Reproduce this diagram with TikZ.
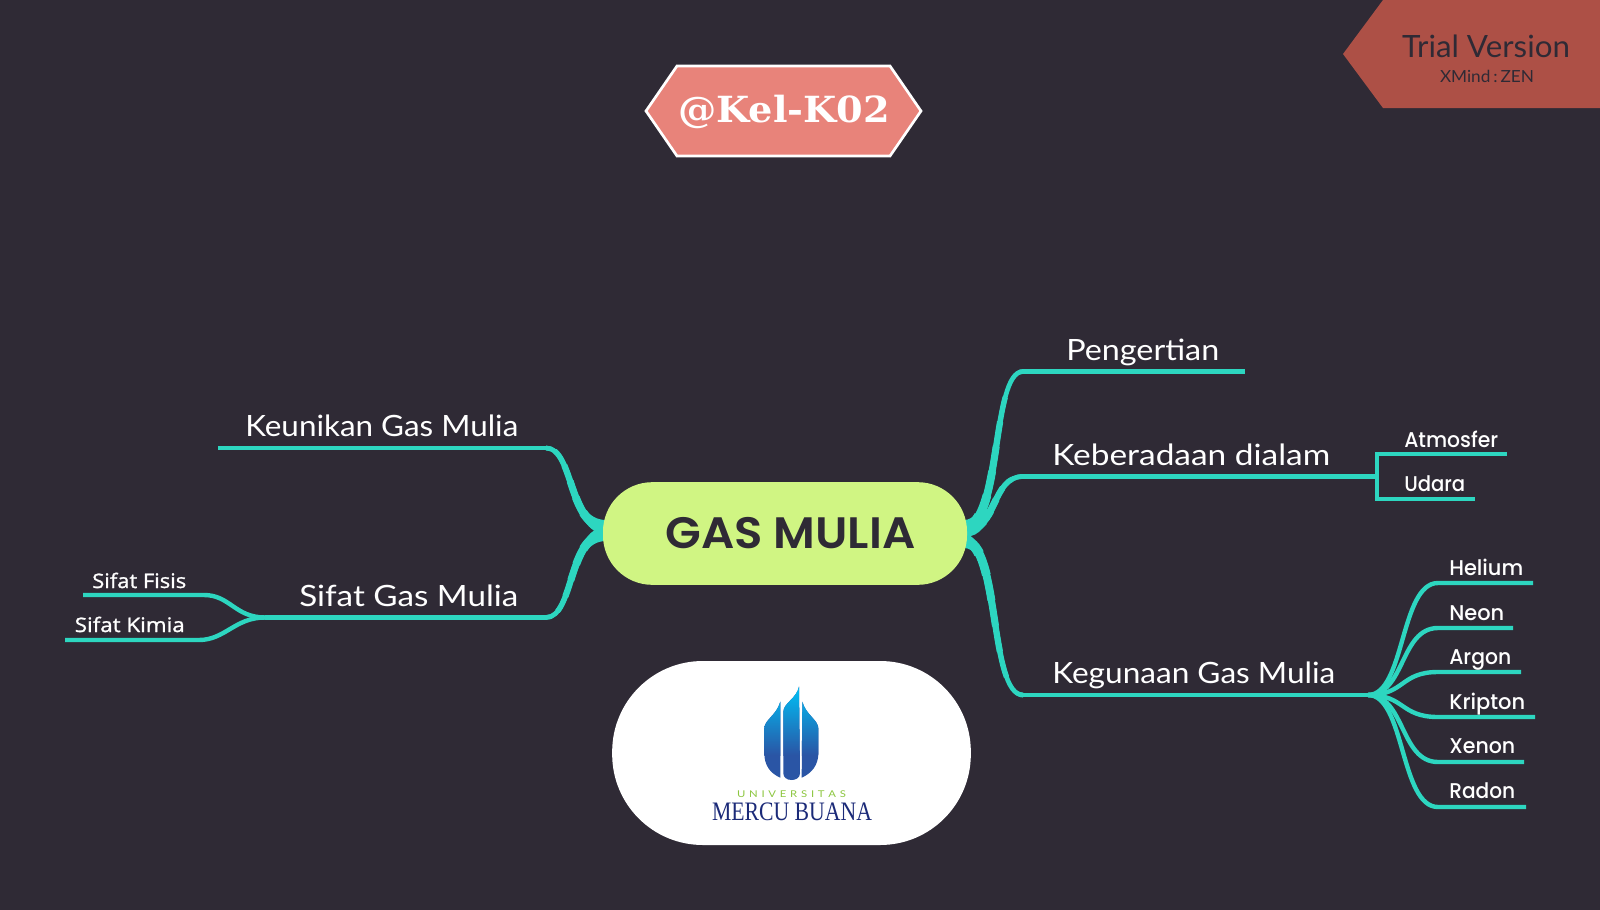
\documentclass[tikz,border=0pt]{standalone}
\usepackage{fontspec}
\usepackage{graphicx}
\usetikzlibrary{calc}
\setmainfont{Lato}
\newfontfamily\handf{Lato}
\newfontfamily\popm{Poppins Medium}
\newfontfamily\pops{Poppins SemiBold}
\newfontfamily\opens{Open Sans}[FakeBold=1.2]
\newfontfamily\kelf{DejaVu Serif}
\definecolor{bgc}{HTML}{2F2A35}
\definecolor{tealc}{HTML}{2DD6C0}
\definecolor{trialc}{HTML}{AD5046}
\definecolor{hexc}{HTML}{E8837A}
\definecolor{limec}{HTML}{D0F583}
\definecolor{logot}{HTML}{00C0F5}
\definecolor{logom}{HTML}{1590D5}
\definecolor{logob}{HTML}{2A55A5}
\definecolor{navyc}{HTML}{1B2A78}
\definecolor{greenc}{HTML}{8CC63F}
\newcommand{\fw}[2]{\resizebox{\dimexpr #1pt*3/4\relax}{\height}{#2}}
% flare at a root: root, end, ctrl offsets a,b, half widths r,t
\newcommand{\taper}[6]{\fill[tealc] ($(#1)+(0,-#5)$) .. controls ($(#1)+(#3,-#5)$) and ($(#2)+(#4,-#6)$) .. ($(#2)+(0,-#6)$) -- ($(#2)+(0,#6)$) .. controls ($(#2)+(#4,#6)$) and ($(#1)+(#3,#5)$) .. ($(#1)+(0,#5)$) -- cycle;}
% thick-to-thin branch: root, end, ctrl offsets a,b, length in pt
\newcommand{\branch}[5]{%
  \taper{#1}{#2}{#3}{#4}{7}{2.4}
  \draw[rule] (#1) .. controls +(#3,0) and +(#4,0) .. (#2);
  \foreach \f/\w in {.85/4.1,.7/4.7,.55/5.3,.4/5.9,.25/6.6,.12/7.6}{%
    \pgfmathsetmacro\lenv{\f*#5}
    \draw[draw=tealc,line width=\w pt,dash pattern=on \lenv pt off 2000pt] (#1) .. controls +(#3,0) and +(#4,0) .. (#2);
  }}
\tikzset{
  rule/.style={draw=tealc,line width=3.5pt},
  subrule/.style={draw=tealc,line width=3.3pt},
  handl/.style={anchor=base west,inner sep=0pt,text=white,font=\handf\fontsize{22}{25}\selectfont},
  subl/.style={anchor=base west,inner sep=0pt,text=white,font=\popm\fontsize{16}{19}\selectfont},
  openl/.style={anchor=base west,inner sep=0pt,text=white,font=\opens\fontsize{15}{18}\selectfont},
}
\begin{document}
\begin{tikzpicture}[x=0.75pt,y=-0.75pt]
\useasboundingbox (0,0) rectangle (1600,910);
\fill[bgc] (0,0) rectangle (1600,910);
% trial banner
\fill[trialc] (1383,0) -- (1343,54) -- (1383,108) -- (1600,108) -- (1600,0) -- cycle;
\node[text=bgc,inner sep=0pt,anchor=base] (trial) at (1486,57) {\fontsize{23}{26}\selectfont\fw{168}{Trial Version}};
\node[text=bgc,inner sep=0pt,anchor=base] (xmind) at (1487,82) {\fontsize{12.5}{15}\selectfont\fw{94}{XMind\,:\,ZEN}};
% hexagon
\draw[fill=hexc,draw=white,line width=2pt] (646,111) -- (677,66) -- (890,66) -- (921,111) -- (890,156) -- (677,156) -- cycle;
\node[text=white,inner sep=0pt,anchor=base] (kel) at (784,122) {\kelf\bfseries\fontsize{27}{30}\selectfont\fw{212}{@Kel-K02}};
% coordinates
\coordinate (rl1) at (606,527);
\coordinate (rl2) at (606,534);
\coordinate (rr1) at (964,527);
\coordinate (rr2) at (964,530);
\coordinate (rr3) at (964,541);
\coordinate (eK) at (546,448);   \coordinate (tK) at (218,448);
\coordinate (eS) at (546,617.5); \coordinate (jS) at (265,617.5);
\coordinate (eP) at (1023,371.5);\coordinate (tP) at (1245,371.5);
\coordinate (eB) at (1023,476.5);\coordinate (jB) at (1377,476.5);
\coordinate (eG) at (1023,695);  \coordinate (jG) at (1368,695);
\coordinate (bA) at (1377,454);  \coordinate (tA) at (1507,454);
\coordinate (bU) at (1377,499);  \coordinate (tU) at (1475,499);
\coordinate (eH) at (1438,583);  \coordinate (tH) at (1533,583);
\coordinate (eN) at (1438,628);  \coordinate (tN) at (1513,628);
\coordinate (eA) at (1438,672);  \coordinate (tAr) at (1521,672);
\coordinate (eR) at (1438,717);  \coordinate (tR) at (1535,717);
\coordinate (eX) at (1438,762);  \coordinate (tX) at (1524,762);
\coordinate (eD) at (1438,807);  \coordinate (tD) at (1526,807);
\coordinate (eF) at (204,595);   \coordinate (tF) at (83,595);
\coordinate (eI) at (199,640);   \coordinate (tI) at (65,640);
% main branches
\branch{rl1}{eK}{-38}{28}{85}
\branch{rl2}{eS}{-38}{28}{85}
\branch{rr1}{eP}{38}{-32}{125}
\branch{rr2}{eB}{34}{-32}{65}
\branch{rr3}{eG}{36}{-34}{130}
\draw[rule] (eK) -- (tK);
\draw[rule] (eS) -- (jS);
\draw[rule] (eP) -- (tP);
\draw[rule] (eB) -- (jB);
\draw[rule] (eG) -- (jG);
% bracket
\draw[subrule,line cap=rect] (bA) -- (bU);
\draw[subrule] (bA) -- (tA);
\draw[subrule] (bU) -- (tU);
% kegunaan subs
\draw[subrule] (jG) .. controls +(37,0) and +(-38,0) .. (eH) -- (tH);
\draw[subrule] (jG) .. controls +(37,0) and +(-38,0) .. (eN) -- (tN);
\draw[subrule] (jG) .. controls +(37,0) and +(-38,0) .. (eA) -- (tAr);
\draw[subrule] (jG) .. controls +(37,0) and +(-38,0) .. (eR) -- (tR);
\draw[subrule] (jG) .. controls +(37,0) and +(-38,0) .. (eX) -- (tX);
\draw[subrule] (jG) .. controls +(37,0) and +(-38,0) .. (eD) -- (tD);
% sifat subs
\draw[subrule] (jS) .. controls +(-30,0) and +(26,0) .. (eF) -- (tF);
\draw[subrule] (jS) .. controls +(-30,0) and +(26,0) .. (eI) -- (tI);
% central
\node[fill=limec,rounded corners=37pt,minimum width=273pt,minimum height=77pt,inner sep=0pt,text=bgc,font=\pops\fontsize{33}{38}\selectfont] (c) at (785,533.5) {\hspace*{8pt}\fw{250}{GAS MULIA}};
% logo
\node[fill=white,rounded corners=68pt,minimum width=269pt,minimum height=138pt,inner sep=0pt] (logo) at (791.5,753) {};
\begin{scope}[shift={(600,640)},x=0.25pt,y=-0.25pt]
\begin{scope}
\clip (541,185) -- (541,413) .. controls (510,400) and (493,375) .. (493,340) -- (493,265) .. controls (493,240) and (530,225) .. (541,185) -- cycle
 (597,140) -- (600,400) .. controls (600,415) and (585,420) .. (575,420) .. controls (560,420) and (550,412) .. (550,400) -- (550,215) .. controls (550,190) and (590,175) .. (597,140) -- cycle
 (607,185) -- (605,413) .. controls (635,400) and (655,375) .. (655,340) -- (655,265) .. controls (655,240) and (618,225) .. (607,185) -- cycle;
\fill[logob] (480,130) rectangle (670,430);
\shade[top color=logot,middle color=logom,bottom color=logob] (480,140) rectangle (670,345);
\end{scope}
\end{scope}
\node[text=greenc,inner sep=0pt,anchor=base] (uni) at (791.5,797) {\fontsize{7}{8}\selectfont\fw{109}{U\,\,N\,\,I\,\,V\,\,E\,\,R\,\,S\,\,I\,\,T\,\,A\,\,S}};
\node[text=navyc,inner sep=0pt,anchor=base] (mb) at (792,820) {\fontspec{Liberation Serif}\fontsize{20}{22}\selectfont\fw{160}{MERCU BUANA}};
% hand labels
\node[handl] (lK) at (245,436) {\fw{273}{Keunikan Gas Mulia}};
\node[handl] (lS) at (299,606) {\fw{219}{Sifat Gas Mulia}};
\node[handl] (lP) at (1066,360) {\fw{153}{Pengertian}};
\node[handl] (lB) at (1052,465) {\fw{278}{Keberadaan dialam}};
\node[handl] (lG) at (1052,683) {\fw{283}{Kegunaan Gas Mulia}};
% sub labels
\node[subl] (lA) at (1404,447) {\fw{94}{Atmosfer}};
\node[subl] (lU) at (1404,491) {\fw{61}{Udara}};
\node[subl] (lH) at (1449,575) {\fw{74}{Helium}};
\node[subl] (lN) at (1449,620) {\fw{55}{Neon}};
\node[subl] (lAr) at (1449,664) {\fw{62}{Argon}};
\node[subl] (lR) at (1449,709) {\fw{76}{Kripton}};
\node[subl] (lX) at (1449,753) {\fw{66}{Xenon}};
\node[subl] (lD) at (1449,798) {\fw{66}{Radon}};
\node[openl] (lF) at (92,588) {\fw{94}{Sifat Fisis}};
\node[openl] (lI) at (74.5,632) {\fw{110}{Sifat Kimia}};
\end{tikzpicture}
\end{document}
